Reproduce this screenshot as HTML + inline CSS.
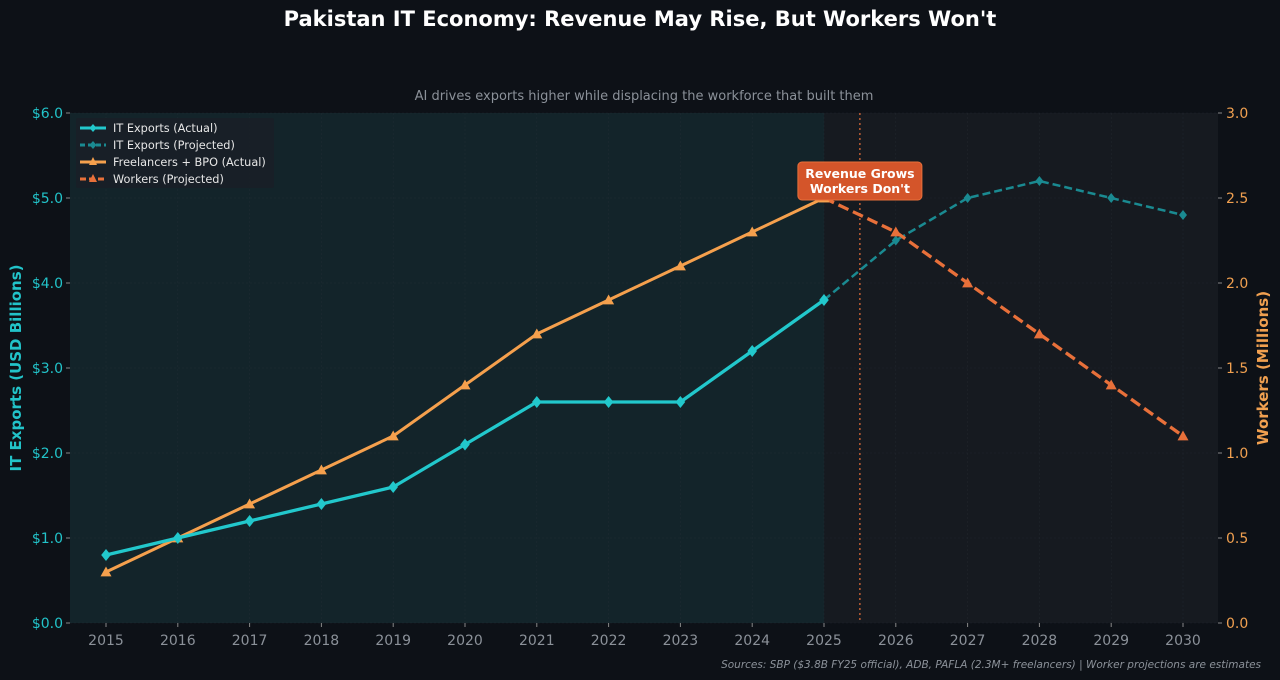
<!DOCTYPE html>
<html><head><meta charset="utf-8"><style>
body{margin:0;background:#0d1117;}
svg{display:block;font-family:"DejaVu Sans","Liberation Sans",sans-serif;}
</style></head><body>
<svg id="chart" width="1280" height="680" viewBox="0 0 1280 680">
<rect width="1280" height="680" fill="#0d1117"/>
<text x="640" y="26" text-anchor="middle" fill="#ffffff" font-size="21" font-weight="bold">Pakistan IT Economy: Revenue May Rise, But Workers Won't</text>
<text x="644" y="100" text-anchor="middle" fill="#8b9199" font-size="13">AI drives exports higher while displacing the workforce that built them</text>
<g id="plot"></g>
<text x="1261" y="668" text-anchor="end" fill="#8b9199" font-size="10.5" font-style="italic">Sources: SBP ($3.8B FY25 official), ADB, PAFLA (2.3M+ freelancers) | Worker projections are estimates</text>
</svg>
<script>
const years = [2015,2016,2017,2018,2019,2020,2021,2022,2023,2024,2025,2026,2027,2028,2029,2030];
const exportsActual = [0.8,1.0,1.2,1.4,1.6,2.1,2.6,2.6,2.6,3.2,3.8];
const exportsProjected = [3.8,4.5,5.0,5.2,5.0,4.8];
const workersActual = [0.3,0.5,0.7,0.9,1.1,1.4,1.7,1.9,2.1,2.3,2.5];
const workersProjected = [2.5,2.3,2.0,1.7,1.4,1.1];
const leftTicks = ["$0.0","$1.0","$2.0","$3.0","$4.0","$5.0","$6.0"];
const rightTicks = ["0.0","0.5","1.0","1.5","2.0","2.5","3.0"];

const L=70,R=1218,T=113,B=623;
const xs = y => 106 + (y-2015)*(1183-106)/15;
const yl = v => B - v*(B-T)/6;
const yr = v => B - v*(B-T)/3;
const NS="http://www.w3.org/2000/svg";
const g=document.getElementById('plot');
function mk(t,a,p){const e=document.createElementNS(NS,t);for(const k in a)e.setAttribute(k,a[k]);(p||g).appendChild(e);return e;}

let e;
e=mk('rect',{x:L,y:T,width:xs(2025)-L,height:B-T,fill:'#13242a'});


e=mk('rect',{x:xs(2025),y:T,width:R-xs(2025),height:B-T,fill:'#161a20'});


for(let i=0;i<=6;i++){e=mk('line',{x1:L,x2:R,y1:yl(i),y2:yl(i),stroke:'#2a3038','stroke-width':0.6,'stroke-dasharray':'2,2',opacity:0.5});

}
years.forEach(y=>{e=mk('line',{x1:xs(y),x2:xs(y),y1:T,y2:B,stroke:'#2a3038','stroke-width':0.6,'stroke-dasharray':'2,2',opacity:0.5});

});
e=mk('line',{x1:xs(2025.5),x2:xs(2025.5),y1:T,y2:B,stroke:'#e8703a','stroke-width':1.2,'stroke-dasharray':'2,3'});



leftTicks.forEach((t,i)=>{
 e=mk('line',{x1:L-4,x2:L,y1:yl(i),y2:yl(i),stroke:'#888'});
 
 
 e=mk('text',{x:L-7,y:yl(i)+5,'text-anchor':'end',fill:'#22c3c9','font-size':14});e.textContent=t;
 
 
});
rightTicks.forEach((t,i)=>{
 e=mk('line',{x1:R,x2:R+4,y1:yr(i*0.5),y2:yr(i*0.5),stroke:'#888'});
 
 
 e=mk('text',{x:R+8,y:yr(i*0.5)+5,fill:'#f0a050','font-size':14});e.textContent=t;
 
 
});
years.forEach(y=>{
 e=mk('line',{x1:xs(y),x2:xs(y),y1:B,y2:B+4,stroke:'#888'});
 
 
 e=mk('text',{x:xs(y),y:B+22,'text-anchor':'middle',fill:'#8b9199','font-size':14});e.textContent=y;
 
 
});
e=mk('text',{x:0,y:0,transform:`translate(21,${(T+B)/2}) rotate(-90)`,'text-anchor':'middle',fill:'#22c3c9','font-size':15,'font-weight':'bold'});e.textContent='IT Exports (USD Billions)';


e=mk('text',{x:0,y:0,transform:`translate(1268,${(T+B)/2}) rotate(-90)`,'text-anchor':'middle',fill:'#f0a050','font-size':15,'font-weight':'bold'});e.textContent='Workers (Millions)';



function series(vals,start,yf,color,w,dash,marker,ms,name){
 const pts=vals.map((v,i)=>[xs(years[start+i]),yf(v)]);
 const a={points:pts.map(p=>p.join(',')).join(' '),fill:'none',stroke:color,'stroke-width':w,'stroke-linejoin':'round'};
 if(dash)a['stroke-dasharray']=dash;
 const pl=mk('polyline',a);
 
 
 pts.forEach(p=>{
  let m;
  if(marker==='d') m=mk('polygon',{points:`${p[0]},${p[1]-ms} ${p[0]+ms*0.8},${p[1]} ${p[0]},${p[1]+ms} ${p[0]-ms*0.8},${p[1]}`,fill:color});
  else m=mk('polygon',{points:`${p[0]},${p[1]-ms} ${p[0]+ms},${p[1]+ms*0.8} ${p[0]-ms},${p[1]+ms*0.8}`,fill:color});
  
  
 });
}
series(exportsProjected,10,yl,'#1a8a91',2.5,'8,4','d',5,'exports-projected');
series(workersProjected,10,yr,'#e8703a',3.3,'11,5','t',5.5,'workers-projected');
series(workersActual,0,yr,'#f5a04d',3,null,'t',5.5,'workers-actual');
series(exportsActual,0,yl,'#22c8cc',3.3,null,'d',6,'exports-actual');

const ax=xs(2025.5), ay=181;
e=mk('rect',{x:ax-62,y:ay-19,width:124,height:38,rx:4,fill:'#d4552a',stroke:'#e8703a'});


e=mk('text',{x:ax,y:ay-3,'text-anchor':'middle',fill:'#fff','font-size':12.5,'font-weight':'bold'});e.textContent='Revenue Grows';


e=mk('text',{x:ax,y:ay+12,'text-anchor':'middle',fill:'#fff','font-size':12.5,'font-weight':'bold'});e.textContent="Workers Don't";



const lg=mk('g',{});


e=mk('rect',{x:76,y:118,width:198,height:70,fill:'#1a1f27',opacity:0.9,rx:2},lg);


const items=[['IT Exports (Actual)','#22c8cc',null,'d'],['IT Exports (Projected)','#1a8a91','5,3','d'],['Freelancers + BPO (Actual)','#f5a04d',null,'t'],['Workers (Projected)','#e8703a','6,3','t']];
items.forEach((it,i)=>{
 const y=128+i*17;
 const a={x1:80,x2:106,y1:y,y2:y,stroke:it[1],'stroke-width':3};if(it[2])a['stroke-dasharray']=it[2];
 e=mk('line',a,lg);
 
 
 const cx=93;
 if(it[3]==='d') e=mk('polygon',{points:`${cx},${y-4} ${cx+3.5},${y} ${cx},${y+4} ${cx-3.5},${y}`,fill:it[1]},lg);
 else e=mk('polygon',{points:`${cx},${y-5} ${cx+4},${y+3} ${cx-4},${y+3}`,fill:it[1]},lg);
 
 
 e=mk('text',{x:113,y:y+4,fill:'#e6e6e6','font-size':11.3},lg);e.textContent=it[0];
 
 
});
</script>
</body></html>
